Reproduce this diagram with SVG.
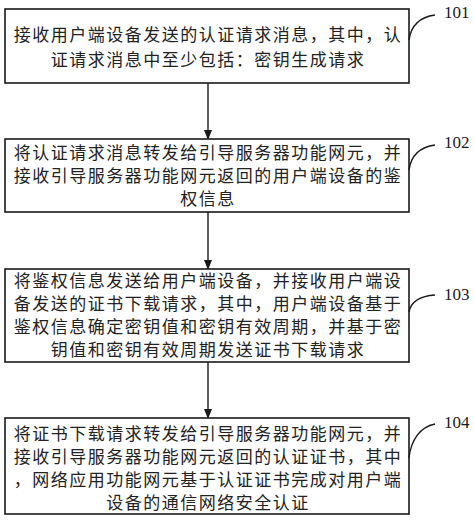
<svg xmlns="http://www.w3.org/2000/svg" width="474" height="520" viewBox="0 0 474 520">
<defs>
<marker id="ah" markerWidth="10" markerHeight="10" refX="9" refY="5" orient="auto" markerUnits="userSpaceOnUse">
<path d="M0,1 L10,5 L0,9 Z" fill="#1a1a1a"/>
</marker>
<style>
.box{fill:#fff;stroke:#1a1a1a;stroke-width:1.6}
.t{font-family:"Noto Sans CJK SC","Noto Sans",sans-serif;font-size:17px;letter-spacing:1.5px;fill:#222;text-anchor:middle}
.lbl{font-family:"Liberation Serif",serif;font-size:17px;fill:#1a1a1a}
.cv{fill:none;stroke:#1a1a1a;stroke-width:1.4}
.conn{stroke:#1a1a1a;stroke-width:1.4;fill:none}
</style>
</defs>
<rect width="474" height="520" fill="#fff"/>
<g id="connectors">
<line class="conn" x1="208" y1="83" x2="208" y2="139" marker-end="url(#ah)"/>
<line class="conn" x1="208" y1="212" x2="208" y2="269" marker-end="url(#ah)"/>
<line class="conn" x1="208" y1="362" x2="208" y2="418" marker-end="url(#ah)"/>
</g>
<g id="node101">
<rect class="box" x="5" y="9" width="404" height="74"/>
<text class="t" x="208" y="41">接收用户端设备发送的认证请求消息，其中，认</text>
<text class="t" x="208" y="66">证请求消息中至少包括：密钥生成请求</text>
<path class="cv" d="M409,40 C411,26 420,17 435,15"/>
<text class="lbl" x="444" y="18">101</text>
</g>
<g id="node102">
<rect class="box" x="5" y="139" width="404" height="73"/>
<text class="t" x="208" y="159">将认证请求消息转发给引导服务器功能网元，并</text>
<text class="t" x="208" y="182">接收引导服务器功能网元返回的用户端设备的鉴</text>
<text class="t" x="208" y="205">权信息</text>
<path class="cv" d="M409,170 C411,156 420,147 435,145"/>
<text class="lbl" x="444" y="148">102</text>
</g>
<g id="node103">
<rect class="box" x="5" y="269" width="404" height="93"/>
<text class="t" x="208" y="287">将鉴权信息发送给用户端设备，并接收用户端设</text>
<text class="t" x="208" y="310">备发送的证书下载请求，其中，用户端设备基于</text>
<text class="t" x="208" y="333">鉴权信息确定密钥值和密钥有效周期，并基于密</text>
<text class="t" x="208" y="356">钥值和密钥有效周期发送证书下载请求</text>
<path class="cv" d="M409,312 C411,302 420,296 435,295"/>
<text class="lbl" x="444" y="300">103</text>
</g>
<g id="node104">
<rect class="box" x="5" y="418" width="404" height="96"/>
<text class="t" x="208" y="440">将证书下载请求转发给引导服务器功能网元，并</text>
<text class="t" x="208" y="463">接收引导服务器功能网元返回的认证证书，其中</text>
<text class="t" x="208" y="486">，网络应用功能网元基于认证证书完成对用户端</text>
<text class="t" x="208" y="509">设备的通信网络安全认证</text>
<path class="cv" d="M409,458 C411,440 420,427 435,424"/>
<text class="lbl" x="444" y="428">104</text>
</g>
</svg>
